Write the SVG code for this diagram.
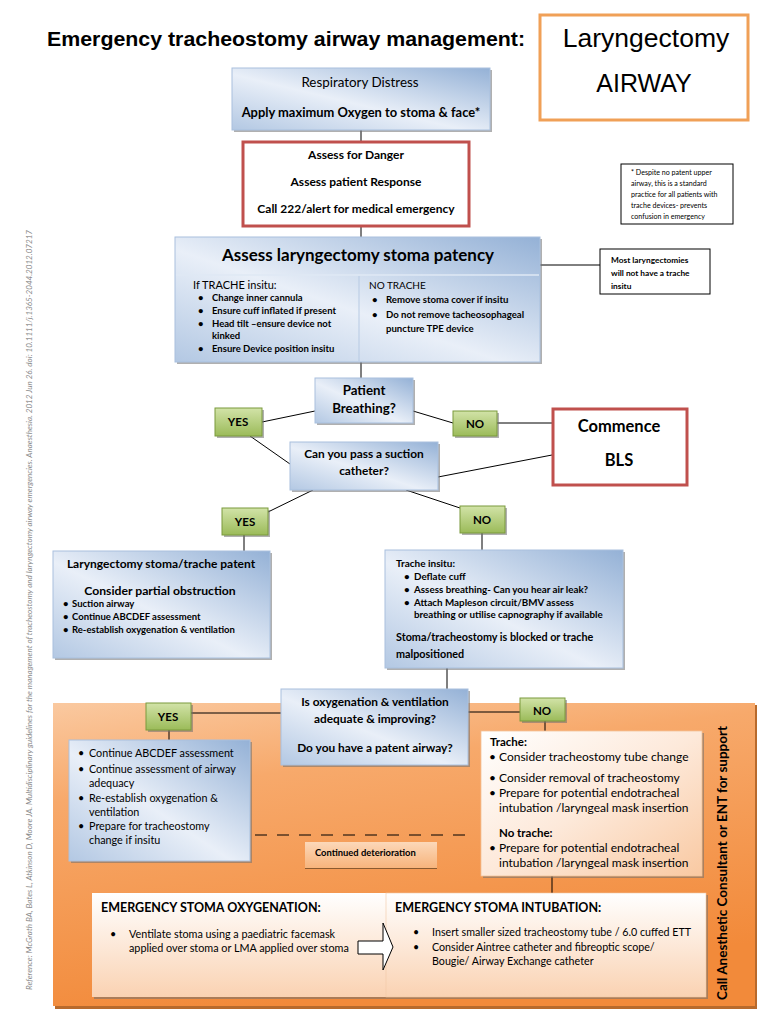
<svg xmlns="http://www.w3.org/2000/svg" width="768" height="1024" viewBox="0 0 768 1024">
<defs>
<linearGradient id="gBlue" x1="0" y1="1" x2="1" y2="0">
<stop offset="0" stop-color="#b3c8e3"/>
<stop offset="0.45" stop-color="#e9eff8"/>
<stop offset="1" stop-color="#94b1d6"/>
</linearGradient>
<linearGradient id="gGreen" x1="0" y1="0" x2="0" y2="1">
<stop offset="0" stop-color="#d2e3a8"/>
<stop offset="1" stop-color="#9bbb59"/>
</linearGradient>
<linearGradient id="gOrange" x1="0" y1="0" x2="0.3" y2="1">
<stop offset="0" stop-color="#fac9a0"/>
<stop offset="0.3" stop-color="#f7a96b"/>
<stop offset="1" stop-color="#f28a3a"/>
</linearGradient>
<linearGradient id="gPeach" x1="0" y1="0" x2="1" y2="1">
<stop offset="0" stop-color="#ffffff"/>
<stop offset="0.5" stop-color="#fde9da"/>
<stop offset="1" stop-color="#f9c9a2"/>
</linearGradient>
<linearGradient id="gPeachV" x1="0" y1="0" x2="0" y2="1">
<stop offset="0" stop-color="#ffffff"/>
<stop offset="1" stop-color="#fad2b2"/>
</linearGradient>
<linearGradient id="gDet" x1="0" y1="0" x2="0" y2="1">
<stop offset="0" stop-color="#fcd8b9"/>
<stop offset="1" stop-color="#f7b47c"/>
</linearGradient>
</defs>
<style>
.b{font-family:Lato,"Liberation Sans",sans-serif;font-weight:bold;fill:#000}
.r{font-family:Lato,"Liberation Sans",sans-serif;fill:#000}
.c{text-anchor:middle}
.ln{stroke:#000;stroke-width:1;fill:none}
.blue{fill:url(#gBlue);stroke:#a9c0de;stroke-width:1}
.sh{fill:#6f6f6f;opacity:0.55}
.green{fill:url(#gGreen);stroke:#7a9a3c;stroke-width:1}
.red{fill:#fff;stroke:#c0504d;stroke-width:3}
.note{fill:#fff;stroke:#000;stroke-width:1}
</style>
<rect width="768" height="1024" fill="#fff"/>

<!-- reference vertical text -->
<text class="r" transform="translate(32,990) rotate(-90)" font-size="7" font-style="italic" style="fill:#8a8a8a" textLength="760" lengthAdjust="spacingAndGlyphs">Reference:  McGrath BA, Bates L, Atkinson D, Moore JA. Multidisciplinary guidelines for the management of tracheostomy and laryngectomy airway emergencies. Anaesthesia. 2012 Jun 26. doi: 10.1111/j.1365-2044.2012.07217</text>

<!-- title -->
<g id="title">
<text x="47" y="46" font-family="'Liberation Sans',sans-serif" font-weight="bold" font-size="20" textLength="478" lengthAdjust="spacingAndGlyphs">Emergency tracheostomy airway management:</text>
</g>
<g id="laryngectomy-airway">
<rect x="540" y="15" width="208" height="105" fill="#fff" stroke="#f0a057" stroke-width="3"/>
<text x="646" y="47" font-family="'Liberation Sans',sans-serif" font-size="26.5" text-anchor="middle">Laryngectomy</text>
<text x="644" y="92" font-family="'Liberation Sans',sans-serif" font-size="25" text-anchor="middle">AIRWAY</text>
</g>

<!-- orange area -->
<g id="orange-area">
<rect x="55" y="705" width="702" height="304" fill="#b86a2c"/>
<rect x="53" y="703" width="702" height="303" fill="url(#gOrange)"/>
</g>

<g id="connectors">
<line class="ln" x1="361" y1="130" x2="361" y2="142"/>
<line class="ln" x1="361" y1="226" x2="361" y2="237"/>
<line class="ln" x1="540" y1="265" x2="600" y2="265"/>
<line class="ln" x1="361" y1="362" x2="361" y2="378"/>
<line class="ln" x1="262" y1="422" x2="315" y2="411"/>
<line class="ln" x1="413" y1="411" x2="453" y2="423"/>
<line class="ln" x1="497" y1="423" x2="552" y2="423"/>
<line class="ln" x1="250" y1="436" x2="290" y2="464"/>
<line class="ln" x1="438" y1="477" x2="552" y2="455"/>
<line class="ln" x1="313" y1="490" x2="268" y2="512"/>
<line class="ln" x1="406" y1="490" x2="460" y2="508"/>
<line class="ln" x1="244" y1="535" x2="244" y2="551"/>
<line class="ln" x1="482" y1="533" x2="482" y2="550"/>
<line class="ln" x1="447" y1="668" x2="447" y2="689"/>
<line class="ln" x1="191" y1="713" x2="281" y2="713"/>
<line class="ln" x1="468" y1="712" x2="520" y2="712"/>
<line class="ln" x1="169" y1="730" x2="169" y2="740"/>
<line class="ln" x1="545" y1="721" x2="545" y2="731"/>
<line class="ln" x1="552" y1="876" x2="552" y2="893"/>
<line class="ln" x1="255" y1="835" x2="470" y2="835" stroke-dasharray="12,10"/>
</g>

<g id="respiratory-distress">
<rect class="sh" x="234" y="70" width="258" height="62"/>
<rect class="blue" x="232" y="68" width="258" height="62"/>
<text class="r c" x="360" y="87" font-size="13.4">Respiratory Distress</text>
<text class="b c" x="361" y="117" font-size="12.9">Apply maximum Oxygen to stoma &amp; face*</text>
</g>

<g id="assess-danger">
<rect class="red" x="243" y="142" width="226" height="84"/>
<text class="b c" x="356" y="159" font-size="12">Assess for Danger</text>
<text class="b c" x="356" y="186" font-size="12">Assess patient Response</text>
<text class="b c" x="356" y="213" font-size="12">Call 222/alert for medical emergency</text>
</g>

<g id="note-despite">
<rect class="note" x="621" y="164" width="112" height="60"/>
<text class="r" x="631" y="175" font-size="7.1">* Despite no patent upper</text>
<text class="r" x="631" y="186" font-size="7.1">airway, this is a standard</text>
<text class="r" x="631" y="197" font-size="7.1">practice for all patients with</text>
<text class="r" x="631" y="208" font-size="7.1">trache devices- prevents</text>
<text class="r" x="631" y="219" font-size="7.1">confusion in emergency</text>
</g>

<g id="stoma-patency">
<rect class="sh" x="177" y="239" width="365" height="125"/>
<rect class="blue" x="175" y="237" width="365" height="125"/>
<line x1="176" y1="275" x2="539" y2="275" stroke="#dfe8f4" stroke-width="1.5"/>
<line x1="359" y1="276" x2="359" y2="361" stroke="#b7cae3" stroke-width="1"/>
<text class="b c" x="358" y="261" font-size="17">Assess laryngectomy stoma patency</text>
<text class="r" x="193" y="289" font-size="11">If TRACHE insitu:</text>
<g class="b" font-size="9.5">
<text x="198" y="301">•</text><text x="212" y="301">Change inner cannula</text>
<text x="198" y="314">•</text><text x="212" y="314">Ensure cuff inflated if present</text>
<text x="198" y="327">•</text><text x="212" y="327">Head tilt –ensure device not</text>
<text x="212" y="339">kinked</text>
<text x="198" y="352">•</text><text x="212" y="352">Ensure Device position insitu</text>
</g>
<text class="r" x="369" y="289" font-size="10">NO TRACHE</text>
<g class="b" font-size="9.6">
<text x="372" y="303">•</text><text x="386" y="303">Remove stoma cover if insitu</text>
<text x="372" y="318">•</text><text x="386" y="318">Do not remove tacheosophageal</text>
<text x="386" y="332">puncture TPE device</text>
</g>
</g>

<g id="note-most">
<rect class="note" x="600" y="249" width="110" height="45"/>
<text class="b" x="611" y="263" font-size="8.3">Most laryngectomies</text>
<text class="b" x="611" y="276" font-size="8.3">will not have a trache</text>
<text class="b" x="611" y="289" font-size="8.3">insitu</text>
</g>

<g id="patient-breathing">
<rect class="sh" x="317" y="380" width="98" height="45"/>
<rect class="blue" x="315" y="378" width="98" height="45"/>
<text class="b c" x="364" y="395" font-size="13.3">Patient</text>
<text class="b c" x="364" y="413" font-size="13.3">Breathing?</text>
</g>

<g id="yes1">
<rect class="sh" x="217" y="410" width="47" height="28"/>
<rect class="green" x="215" y="408" width="47" height="28"/>
<text class="b c" x="238" y="426" font-size="11.5">YES</text>
</g>
<g id="no1">
<rect class="sh" x="455" y="413" width="44" height="25"/>
<rect class="green" x="453" y="411" width="44" height="25"/>
<text class="b c" x="475" y="428" font-size="11.5">NO</text>
</g>

<g id="commence-bls">
<rect class="red" x="553" y="409" width="134" height="76"/>
<text class="b c" x="619" y="432" font-size="16.5">Commence</text>
<text class="b c" x="619" y="466" font-size="16.5">BLS</text>
</g>

<g id="suction">
<rect class="sh" x="292" y="444" width="148" height="48"/>
<rect class="blue" x="290" y="442" width="148" height="48"/>
<text class="b c" x="364" y="458" font-size="11.9">Can you pass a suction</text>
<text class="b c" x="364" y="475" font-size="11.9">catheter?</text>
</g>

<g id="yes2">
<rect class="sh" x="224" y="510" width="46" height="27"/>
<rect class="green" x="222" y="508" width="46" height="27"/>
<text class="b c" x="245" y="526" font-size="11.5">YES</text>
</g>
<g id="no2">
<rect class="sh" x="462" y="508" width="45" height="27"/>
<rect class="green" x="460" y="506" width="45" height="27"/>
<text class="b c" x="482" y="524" font-size="11.5">NO</text>
</g>

<g id="stoma-patent">
<rect class="sh" x="55" y="553" width="217" height="107"/>
<rect class="blue" x="53" y="551" width="217" height="107"/>
<text class="b c" x="161" y="568" font-size="12">Laryngectomy stoma/trache patent</text>
<text class="b c" x="160" y="595" font-size="12.2">Consider partial obstruction</text>
<g class="b" font-size="9.5">
<text x="63" y="607">•</text><text x="72" y="607">Suction airway</text>
<text x="63" y="620">•</text><text x="72" y="620">Continue ABCDEF assessment</text>
<text x="63" y="633">•</text><text x="72" y="633">Re-establish oxygenation &amp; ventilation</text>
</g>
</g>

<g id="trache-insitu">
<rect class="sh" x="387" y="552" width="238" height="118"/>
<rect class="blue" x="385" y="550" width="238" height="118"/>
<text class="b" x="396" y="567" font-size="10">Trache insitu:</text>
<g class="b" font-size="9.8">
<text x="404" y="580">•</text><text x="414" y="580">Deflate cuff</text>
<text x="404" y="593">•</text><text x="414" y="593">Assess breathing- Can you hear air leak?</text>
<text x="404" y="606">•</text><text x="414" y="606">Attach Mapleson circuit/BMV assess</text>
<text x="414" y="618">breathing or utilise capnography if available</text>
</g>
<text class="b" x="396" y="641" font-size="10.8">Stoma/tracheostomy is blocked or trache</text>
<text class="b" x="396" y="658" font-size="10.8">malpositioned</text>
</g>

<g id="oxygenation-q">
<rect class="sh" x="283" y="691" width="187" height="76"/>
<rect class="blue" x="281" y="689" width="187" height="76"/>
<text class="b c" x="375" y="706" font-size="11.9">Is oxygenation &amp; ventilation</text>
<text class="b c" x="375" y="723" font-size="11.9">adequate &amp; improving?</text>
<text class="b c" x="375" y="752" font-size="11.9">Do you have a patent airway?</text>
</g>

<g id="yes3">
<rect class="sh" x="148" y="705" width="45" height="27"/>
<rect class="green" x="146" y="703" width="45" height="27"/>
<text class="b c" x="168" y="721" font-size="11.5">YES</text>
</g>
<g id="no3">
<rect class="sh" x="522" y="700" width="45" height="23"/>
<rect class="green" x="520" y="698" width="45" height="23"/>
<text class="b c" x="542" y="715" font-size="11.5">NO</text>
</g>

<g id="yes-actions">
<rect class="sh" x="71" y="742" width="181" height="121"/>
<rect class="blue" x="69" y="740" width="181" height="121"/>
<g class="r" font-size="10.8">
<text x="78" y="757">•</text><text x="89" y="757">Continue ABCDEF assessment</text>
<text x="78" y="773">•</text><text x="89" y="773">Continue assessment of airway</text>
<text x="89" y="787">adequacy</text>
<text x="78" y="802">•</text><text x="89" y="802">Re-establish oxygenation &amp;</text>
<text x="89" y="816">ventilation</text>
<text x="78" y="830">•</text><text x="89" y="830">Prepare for tracheostomy</text>
<text x="89" y="844">change if  insitu</text>
</g>
</g>

<g id="continued-deterioration">
<rect x="305" y="842" width="132" height="26" fill="url(#gDet)"/>
<line x1="305" y1="868.5" x2="437" y2="868.5" stroke="#8a5a30" stroke-width="1"/>
<text class="b" x="315" y="856" font-size="9.4">Continued deterioration</text>
</g>

<g id="no-actions">
<rect class="sh" x="483" y="733" width="221" height="145"/>
<rect x="481" y="731" width="221" height="145" fill="url(#gPeach)" stroke="#f3c29a" stroke-width="0.8"/>
<text class="b" x="490" y="746" font-size="11.5">Trache:</text>
<g class="r" font-size="12">
<text x="489" y="761">•</text><text x="499" y="761">Consider tracheostomy tube change</text>
<text x="489" y="782">•</text><text x="499" y="782">Consider removal of tracheostomy</text>
<text x="489" y="797">•</text><text x="499" y="797">Prepare for potential endotracheal</text>
<text x="499" y="812">intubation /laryngeal mask insertion</text>
</g>
<text class="b" x="499" y="837" font-size="11.5">No trache:</text>
<g class="r" font-size="12">
<text x="489" y="852">•</text><text x="499" y="852">Prepare for potential endotracheal</text>
<text x="499" y="867">intubation /laryngeal mask insertion</text>
</g>
</g>

<g id="call-consultant">
<text class="b" transform="translate(727,1000) rotate(-90)" font-size="13.5" textLength="274" lengthAdjust="spacingAndGlyphs">Call Anesthetic Consultant or ENT for support</text>
</g>

<g id="stoma-oxygenation">
<rect class="sh" x="94" y="895" width="294" height="104"/>
<rect x="92" y="893" width="294" height="104" fill="url(#gPeachV)"/>
<text class="b" x="101" y="912" font-size="12.5">EMERGENCY STOMA OXYGENATION:</text>
<g class="r" font-size="10.8">
<text x="110" y="938">•</text>
<text x="129" y="938">Ventilate  stoma using a paediatric facemask</text>
<text x="129" y="952">applied over stoma or LMA applied over stoma</text>
</g>
</g>

<g id="stoma-intubation">
<rect class="sh" x="388" y="895" width="320" height="104"/>
<rect x="386" y="893" width="320" height="104" fill="url(#gPeachV)" stroke="#f0c8a6" stroke-width="0.6"/>
<text class="b" x="395" y="912" font-size="12.5">EMERGENCY STOMA INTUBATION:</text>
<g class="r" font-size="10.7">
<text x="413" y="936">•</text><text x="432" y="936">Insert smaller sized tracheostomy tube / 6.0 cuffed ETT</text>
<text x="413" y="951">•</text><text x="432" y="951">Consider Aintree catheter and fibreoptic scope/</text>
<text x="432" y="965">Bougie/ Airway Exchange catheter</text>
</g>
</g>

<g id="block-arrow">
<polygon points="358,941 383,941 383,923 393,947 383,970 383,954 358,954" fill="#fff" stroke="#000" stroke-width="1"/>
</g>
</svg>
